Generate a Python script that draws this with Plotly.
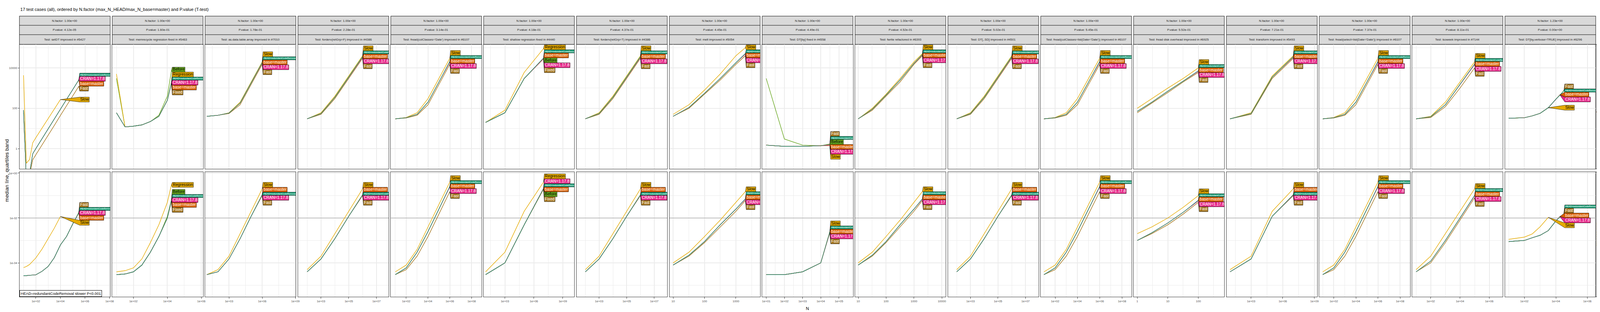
import math
import plotly.graph_objects as go

# the page is photographed about 4096 px wide, so the 6800 px layout is scaled to it
W, H = 4096, 800
SX = W / 6800.0
FONT = "Liberation Sans, Arial, sans-serif"

TITLE = ("17 test cases (all), ordered by N.factor (max_N_HEAD/max_N_base=master) "
         "and P.value (T-test)")

N_FACTOR = ["1.00e+00"] * 16 + ["1.23e+00"]
P_VALUE = ["4.12e-05", "1.60e-01", "1.78e-01", "2.28e-01", "3.14e-01", "4.18e-01",
           "4.37e-01", "4.45e-01", "4.49e-01", "4.52e-01", "5.02e-01", "5.45e-01",
           "5.52e-01", "7.21e-01", "7.37e-01", "8.11e-01", "0.00e+00"]
TESTS = ["setDT improved in #5427",
         "memrecycle regression fixed in #5463",
         "as.data.table.array improved in #7010",
         "forderv(retGrp=F) improved in #4386",
         "fread(colClasses='Date') improved in #6107",
         "shallow regression fixed in #4440",
         "forderv(retGrp=T) improved in #4386",
         "melt improved in #5054",
         "DT[by] fixed in #4558",
         "fwrite refactored in #6393",
         "DT[,.SD] improved in #4501",
         "fread(colClasses=list(Date='Date')) improved in #6107",
         "fread disk overhead improved in #6925",
         "transform improved in #5493",
         "fread(select=list(Date='Date')) improved in #6107",
         "isoweek improved in #7144",
         "DT[by,verbose=TRUE] improved in #6296"]

# x axis (log10 N) per facet column
X_RANGES = [(0.666, 8.05), (0.755, 6.10), (0.84, 9.04), (1.34, 7.88), (0.59, 8.91),
            (0.80, 10.2), (1.36, 7.94), (0.88, 3.77), (0.78, 5.77), (0.887, 4.14),
            (1.36, 7.95), (0.71, 8.85), (-0.12, 2.85), (0.66, 9.26), (0.69, 8.9),
            (0.73, 6.93), (0.77, 6.53)]
X_TICK_EXP = [[2, 4, 6, 8], [2, 4, 6], [3, 6, 9], [3, 5, 7], [2, 4, 6, 8], [3, 6, 9],
              [3, 5, 7], [1, 2, 3], [1, 2, 3, 4, 5], [1, 2, 3, 4], [3, 5, 7],
              [2, 4, 6, 8], [0, 1, 2], [3, 6, 9], [2, 4, 6, 8], [2, 4, 6], [2, 4, 6]]
X_TICK_TEXT = [["1e+02", "1e+04", "1e+06", "1e+08"], ["1e+02", "1e+04", "1e+06"],
               ["1e+03", "1e+06", "1e+09"], ["1e+03", "1e+05", "1e+07"],
               ["1e+02", "1e+04", "1e+06", "1e+08"], ["1e+03", "1e+06", "1e+09"],
               ["1e+03", "1e+05", "1e+07"], ["10", "100", "1000"],
               ["1e+01", "1e+02", "1e+03", "1e+04", "1e+05"], ["10", "100", "1000", "10000"],
               ["1e+03", "1e+05", "1e+07"], ["1e+02", "1e+04", "1e+06", "1e+08"],
               ["1", "10", "100"], ["1e+03", "1e+06", "1e+09"],
               ["1e+02", "1e+04", "1e+06", "1e+08"], ["1e+02", "1e+04", "1e+06"],
               ["1e+02", "1e+04", "1e+06"]]

KB_TICKS = [1, 100, 10000]
KB_TICK_TEXT = ["1", "100", "10000"]
KB_RANGE = (-1.0, 5.16)
SEC_TICKS = [1e-4, 1e-2, 1]
SEC_TICK_TEXT = ["1e-04", "1e-02", "1e+00"]
SEC_RANGE = (-5.51, 0.05)
SECONDS_LIMIT = 0.01

HEAD = "HEAD=redundantCodeRemoval"
BASE = "base=master"
CRAN = "CRAN=1.17.8"

# ---------------- data (median kilobytes / seconds vs N) ----------------
# 1 setDT
p01_N = [10, 17, 31, 56, 100, 316, 1000, 3162, 10000, 31623, 100000, 316228]
p01_kb_slow = [4300, 0.19, 0.29, 1.95, 3.5, 10.2, 31, 91, 270]
p01_kb_fast = [60, 0.03, 0.05, 0.28, 0.5, 1.5, 4.6, 14, 44, 134, 410, 1230]
p01_kb_base = [81, 0.03, 0.06, 0.56, 1.0, 3.1, 9.5, 29, 89, 275, 832, 2500]
p01_kb_cran = [81, 0.03, 0.06, 0.56, 1.0, 3.1, 9.5, 29, 89, 275, 832, 2550]
p01_kb_head = [81, 0.03, 0.06, 0.56, 1.0, 3.1, 9.5, 29, 89, 275, 832, 2600]
p01_sec_slow = [6.2e-5, 6.9e-5, 8.5e-5, 1.17e-4, 1.66e-4, 4.1e-4, 1.2e-3, 3.5e-3, 0.0117]
p01_sec_fast = [2.7e-5, 2.7e-5, 2.8e-5, 2.9e-5, 2.95e-5, 4.2e-5, 6.9e-5, 1.7e-4, 6.3e-4, 1.5e-3, 5.4e-3, 0.0182]
p01_sec_base = [2.7e-5, 2.7e-5, 2.8e-5, 2.9e-5, 2.95e-5, 4.2e-5, 6.9e-5, 1.7e-4, 6.3e-4, 1.5e-3, 5.4e-3, 0.0166]
p01_sec_cran = [2.7e-5, 2.7e-5, 2.8e-5, 2.9e-5, 2.95e-5, 4.2e-5, 6.9e-5, 1.7e-4, 6.3e-4, 1.5e-3, 5.4e-3, 0.0168]
p01_sec_head = [2.7e-5, 2.7e-5, 2.8e-5, 2.9e-5, 2.95e-5, 4.2e-5, 6.9e-5, 1.7e-4, 6.3e-4, 1.5e-3, 5.4e-3, 0.0174]

# 2 memrecycle
p02_N = [10, 32, 100, 316, 1000, 3162, 10000, 17378]
p02_kb_before = [3000, 12, 13, 15, 22, 45, 400, 7200]
p02_kb_regr = [5000, 12, 13, 15, 22, 40, 250, 1900]
p02_kb_fixed = [60, 12, 13, 15, 22, 40, 250, 1700]
p02_kb_base = [60, 12, 13, 15, 22, 40, 250, 1750]
p02_kb_cran = [60, 12, 13, 15, 22, 40, 250, 1800]
p02_kb_head = [60, 12, 13, 15, 22, 40, 250, 1850]
p02_sec_before = [3e-5, 3.2e-5, 4e-5, 8e-5, 3e-4, 1.5e-3, 0.012, 0.065]
p02_sec_regr = [4e-5, 4.5e-5, 6e-5, 1.5e-4, 8e-4, 5e-3, 0.05, 0.3]
p02_sec_fixed = [3e-5, 3.2e-5, 4e-5, 8e-5, 3e-4, 1.5e-3, 0.01, 0.055]
p02_sec_base = [3e-5, 3.2e-5, 4e-5, 8e-5, 3e-4, 1.5e-3, 0.01, 0.058]
p02_sec_cran = [3e-5, 3.2e-5, 4e-5, 8e-5, 3e-4, 1.5e-3, 0.01, 0.06]
p02_sec_head = [3e-5, 3.2e-5, 4e-5, 8e-5, 3e-4, 1.5e-3, 0.01, 0.062]

# 3..16 rough shapes
p03_N = [10, 100, 1000, 10000, 100000, 1000000]
p03_kb_slow = [40, 45, 60, 200, 2000, 20000]
p03_kb_fast = [40, 45, 55, 150, 1500, 15000]
p03_kb_base = [40, 45, 58, 180, 1800, 18000]
p03_kb_cran = [40, 45, 58, 180, 1800, 17500]
p03_kb_head = [40, 45, 58, 180, 1800, 18500]
p03_sec_slow = [3e-5, 5e-5, 2e-4, 2e-3, 0.02, 0.2]
p03_sec_fast = [3e-5, 4e-5, 1.5e-4, 1.2e-3, 0.012, 0.1]
p03_sec_base = [3e-5, 4e-5, 1.5e-4, 1.2e-3, 0.012, 0.11]
p03_sec_cran = [3e-5, 4e-5, 1.5e-4, 1.2e-3, 0.012, 0.105]
p03_sec_head = [3e-5, 4e-5, 1.5e-4, 1.2e-3, 0.012, 0.108]

p04_N = [100, 1000, 10000, 100000, 1000000]
p04_kb_slow = [30, 60, 400, 4000, 40000]
p04_kb_fast = [30, 50, 300, 3000, 30000]
p04_kb_base = [30, 55, 350, 3500, 35000]
p04_kb_cran = [30, 55, 350, 3500, 34000]
p04_kb_head = [30, 55, 350, 3500, 36000]
p04_sec_slow = [5e-5, 2e-4, 2e-3, 0.02, 0.2]
p04_sec_fast = [4e-5, 1.5e-4, 1.2e-3, 0.012, 0.1]
p04_sec_base = [4e-5, 1.5e-4, 1.2e-3, 0.012, 0.11]
p04_sec_cran = [4e-5, 1.5e-4, 1.2e-3, 0.012, 0.105]
p04_sec_head = [4e-5, 1.5e-4, 1.2e-3, 0.012, 0.108]

p05_N = [10, 100, 1000, 10000, 100000, 1000000]
p05_kb_slow = [30, 35, 60, 300, 3000, 30000]
p05_kb_fast = [30, 33, 45, 150, 1500, 15000]
p05_kb_base = [30, 34, 50, 200, 2000, 20000]
p05_kb_cran = [30, 34, 50, 200, 2000, 19000]
p05_kb_head = [30, 34, 50, 200, 2000, 21000]
p05_sec_slow = [4e-5, 8e-5, 4e-4, 4e-3, 0.04, 0.4]
p05_sec_fast = [3e-5, 5e-5, 2e-4, 1.5e-3, 0.015, 0.15]
p05_sec_base = [3e-5, 6e-5, 3e-4, 2.5e-3, 0.025, 0.25]
p05_sec_cran = [3e-5, 6e-5, 3e-4, 2.5e-3, 0.025, 0.24]
p05_sec_head = [3e-5, 6e-5, 3e-4, 2.5e-3, 0.025, 0.26]

p06_N = [10, 1000, 100000, 10000000]
p06_kb_before = [20, 60, 3000, 30000]
p06_kb_regr = [20, 80, 6000, 90000]
p06_kb_fixed = [20, 60, 3000, 28000]
p06_kb_base = [20, 60, 3000, 30000]
p06_kb_cran = [20, 60, 3000, 29000]
p06_kb_head = [20, 60, 3000, 31000]
p06_sec_before = [3e-5, 1e-4, 5e-3, 0.2]
p06_sec_regr = [4e-5, 3e-4, 0.02, 0.4]
p06_sec_fixed = [3e-5, 1e-4, 5e-3, 0.19]
p06_sec_base = [3e-5, 1e-4, 5e-3, 0.2]
p06_sec_cran = [3e-5, 1e-4, 5e-3, 0.21]
p06_sec_head = [3e-5, 1e-4, 5e-3, 0.205]

p07_N = [100, 1000, 10000, 100000, 1000000]
p07_kb_slow = [30, 60, 400, 4000, 40000]
p07_kb_fast = [30, 50, 300, 3000, 30000]
p07_kb_base = [30, 55, 350, 3500, 35000]
p07_kb_cran = [30, 55, 350, 3500, 34000]
p07_kb_head = [30, 55, 350, 3500, 36000]
p07_sec_slow = [5e-5, 2e-4, 2e-3, 0.02, 0.2]
p07_sec_fast = [4e-5, 1.5e-4, 1.2e-3, 0.012, 0.1]
p07_sec_base = [4e-5, 1.5e-4, 1.2e-3, 0.012, 0.11]
p07_sec_cran = [4e-5, 1.5e-4, 1.2e-3, 0.012, 0.105]
p07_sec_head = [4e-5, 1.5e-4, 1.2e-3, 0.012, 0.108]

p08_N = [10, 32, 100, 316, 1000, 2000]
p08_kb_slow = [50, 150, 800, 5000, 40000, 100000]
p08_kb_fast = [40, 100, 500, 2500, 15000, 40000]
p08_kb_base = [40, 110, 550, 3000, 18000, 50000]
p08_kb_cran = [40, 110, 550, 3000, 18000, 48000]
p08_kb_head = [40, 110, 550, 3000, 18000, 52000]
p08_sec_slow = [1e-4, 3e-4, 1.5e-3, 8e-3, 0.05, 0.15]
p08_sec_fast = [8e-5, 2e-4, 8e-4, 4e-3, 0.02, 0.06]
p08_sec_base = [8e-5, 2.2e-4, 9e-4, 5e-3, 0.025, 0.07]
p08_sec_cran = [8e-5, 2.2e-4, 9e-4, 5e-3, 0.025, 0.068]
p08_sec_head = [8e-5, 2.2e-4, 9e-4, 5e-3, 0.025, 0.072]

p09_N = [10, 100, 1000, 10000, 31623]
p09_kb_before = [3000, 3, 1.5, 1.4, 1.6]
p09_kb_slow = [1.5, 1.3, 1.3, 1.4, 1.4]
p09_kb_fast = [1.5, 1.3, 1.3, 1.4, 1.7]
p09_kb_base = [1.5, 1.3, 1.3, 1.4, 1.5]
p09_kb_cran = [1.5, 1.3, 1.3, 1.4, 1.45]
p09_kb_head = [1.5, 1.3, 1.3, 1.4, 1.6]
p09_sec_slow = [3e-5, 3e-5, 4e-5, 1e-4, 2.5e-3]
p09_sec_fast = [3e-5, 3e-5, 4e-5, 1e-4, 2.2e-3]
p09_sec_base = [3e-5, 3e-5, 4e-5, 1e-4, 2.4e-3]
p09_sec_cran = [3e-5, 3e-5, 4e-5, 1e-4, 2.3e-3]
p09_sec_head = [3e-5, 3e-5, 4e-5, 1e-4, 2.45e-3]

p10_N = [10, 32, 100, 316, 1000, 2000]
p10_kb_slow = [30, 100, 500, 3000, 20000, 50000]
p10_kb_fast = [30, 80, 400, 2000, 15000, 40000]
p10_kb_base = [30, 90, 450, 2500, 17000, 45000]
p10_kb_cran = [30, 90, 450, 2500, 17000, 44000]
p10_kb_head = [30, 90, 450, 2500, 17000, 46000]
p10_sec_slow = [1e-4, 3e-4, 1.5e-3, 8e-3, 0.05, 0.15]
p10_sec_fast = [8e-5, 2e-4, 8e-4, 4e-3, 0.02, 0.06]
p10_sec_base = [8e-5, 2.2e-4, 9e-4, 5e-3, 0.025, 0.07]
p10_sec_cran = [8e-5, 2.2e-4, 9e-4, 5e-3, 0.025, 0.068]
p10_sec_head = [8e-5, 2.2e-4, 9e-4, 5e-3, 0.025, 0.072]

p11_N = [100, 1000, 10000, 100000, 1000000]
p11_kb_slow = [30, 60, 400, 4000, 40000]
p11_kb_fast = [30, 50, 300, 3000, 30000]
p11_kb_base = [30, 55, 350, 3500, 35000]
p11_kb_cran = [30, 55, 350, 3500, 34000]
p11_kb_head = [30, 55, 350, 3500, 36000]
p11_sec_slow = [5e-5, 2e-4, 2e-3, 0.02, 0.2]
p11_sec_fast = [4e-5, 1.5e-4, 1.2e-3, 0.012, 0.1]
p11_sec_base = [4e-5, 1.5e-4, 1.2e-3, 0.012, 0.11]
p11_sec_cran = [4e-5, 1.5e-4, 1.2e-3, 0.012, 0.105]
p11_sec_head = [4e-5, 1.5e-4, 1.2e-3, 0.012, 0.108]

p12_N = [10, 100, 1000, 10000, 100000, 1000000]
p12_kb_slow = [30, 35, 60, 300, 3000, 30000]
p12_kb_fast = [30, 33, 45, 150, 1500, 15000]
p12_kb_base = [30, 34, 50, 200, 2000, 20000]
p12_kb_cran = [30, 34, 50, 200, 2000, 19000]
p12_kb_head = [30, 34, 50, 200, 2000, 21000]
p12_sec_slow = [4e-5, 8e-5, 4e-4, 4e-3, 0.04, 0.4]
p12_sec_fast = [3e-5, 5e-5, 2e-4, 1.5e-3, 0.015, 0.15]
p12_sec_base = [3e-5, 6e-5, 3e-4, 2.5e-3, 0.025, 0.25]
p12_sec_cran = [3e-5, 6e-5, 3e-4, 2.5e-3, 0.025, 0.24]
p12_sec_head = [3e-5, 6e-5, 3e-4, 2.5e-3, 0.025, 0.26]

p13_N = [1, 3, 10, 32, 100]
p13_kb_slow = [100, 300, 1000, 3000, 10000]
p13_kb_fast = [60, 180, 600, 2000, 6000]
p13_kb_base = [70, 200, 700, 2200, 7000]
p13_kb_cran = [70, 200, 700, 2200, 6800]
p13_kb_head = [70, 200, 700, 2200, 7200]
p13_sec_slow = [2e-3, 4e-3, 1e-2, 3e-2, 0.1]
p13_sec_fast = [1e-3, 2e-3, 5e-3, 1.5e-2, 0.05]
p13_sec_base = [1e-3, 2.2e-3, 6e-3, 1.8e-2, 0.06]
p13_sec_cran = [1e-3, 2.2e-3, 6e-3, 1.8e-2, 0.058]
p13_sec_head = [1e-3, 2.2e-3, 6e-3, 1.8e-2, 0.062]

p14_N = [10, 1000, 100000, 10000000]
p14_kb_slow = [30, 60, 4000, 40000]
p14_kb_fast = [30, 50, 3000, 30000]
p14_kb_base = [30, 55, 3500, 35000]
p14_kb_cran = [30, 55, 3500, 34000]
p14_kb_head = [30, 55, 3500, 36000]
p14_sec_slow = [5e-5, 2e-4, 0.02, 0.2]
p14_sec_fast = [4e-5, 1.5e-4, 0.012, 0.1]
p14_sec_base = [4e-5, 1.5e-4, 0.012, 0.11]
p14_sec_cran = [4e-5, 1.5e-4, 0.012, 0.105]
p14_sec_head = [4e-5, 1.5e-4, 0.012, 0.108]

p15_N = [10, 100, 1000, 10000, 100000, 1000000]
p15_kb_slow = [30, 35, 60, 300, 3000, 30000]
p15_kb_fast = [30, 33, 45, 150, 1500, 15000]
p15_kb_base = [30, 34, 50, 200, 2000, 20000]
p15_kb_cran = [30, 34, 50, 200, 2000, 19000]
p15_kb_head = [30, 34, 50, 200, 2000, 21000]
p15_sec_slow = [4e-5, 8e-5, 4e-4, 4e-3, 0.04, 0.4]
p15_sec_fast = [3e-5, 5e-5, 2e-4, 1.5e-3, 0.015, 0.15]
p15_sec_base = [3e-5, 6e-5, 3e-4, 2.5e-3, 0.025, 0.25]
p15_sec_cran = [3e-5, 6e-5, 3e-4, 2.5e-3, 0.025, 0.24]
p15_sec_head = [3e-5, 6e-5, 3e-4, 2.5e-3, 0.025, 0.26]

p16_N = [10, 100, 1000, 10000, 100000]
p16_kb_slow = [30, 40, 200, 2000, 20000]
p16_kb_fast = [30, 35, 120, 1000, 10000]
p16_kb_base = [30, 38, 150, 1500, 15000]
p16_kb_cran = [30, 38, 150, 1500, 14500]
p16_kb_head = [30, 38, 150, 1500, 15500]
p16_sec_slow = [5e-5, 2e-4, 2e-3, 0.02, 0.2]
p16_sec_fast = [4e-5, 1e-4, 8e-4, 8e-3, 0.08]
p16_sec_base = [4e-5, 1.2e-4, 1e-3, 0.01, 0.1]
p16_sec_cran = [4e-5, 1.2e-4, 1e-3, 0.01, 0.098]
p16_sec_head = [4e-5, 1.2e-4, 1e-3, 0.01, 0.102]

# 17 DT[by,verbose=TRUE]
p17_N = [10, 100, 316, 1000, 3311, 10000, 18197, 32359]
p17_kb_slow = [32, 34, 42, 56, 107]
p17_kb_fast = [32, 34, 42, 56, 107, 282, 447, 760]
p17_kb_base = [32, 34, 42, 56, 107, 282, 468]
p17_kb_cran = [32, 34, 42, 56, 107, 282, 455]
p17_kb_head = [32, 34, 42, 56, 107, 282, 447, 741]
p17_sec_slow = [1.12e-3, 1.41e-3, 1.95e-3, 4.07e-3, 0.0107]
p17_sec_fast = [8.9e-4, 1.0e-3, 1.32e-3, 1.7e-3, 2.75e-3, 7.4e-3, 0.0112, 0.0148]
p17_sec_base = [8.9e-4, 1.0e-3, 1.32e-3, 1.7e-3, 2.75e-3, 7.4e-3, 0.0117]
p17_sec_cran = [8.9e-4, 1.0e-3, 1.32e-3, 1.7e-3, 2.75e-3, 7.4e-3, 0.0115]
p17_sec_head = [8.9e-4, 1.0e-3, 1.32e-3, 1.7e-3, 2.75e-3, 7.4e-3, 0.0112, 0.0155]


def std(prefix):
    g = globals()
    return {k: g[prefix + "_" + s] for k, s in
            [("Slow", "slow"), ("Fast", "fast"), (BASE, "base"), (CRAN, "cran"), (HEAD, "head")]}


def regr(prefix):
    g = globals()
    return {k: g[prefix + "_" + s] for k, s in
            [("Before", "before"), ("Regression", "regr"), ("Fixed", "fixed"),
             (BASE, "base"), (CRAN, "cran"), (HEAD, "head")]}


PANELS = []
for i in range(1, 18):
    p = "p%02d" % i
    if i in (2, 6):
        kb, sec = regr(p + "_kb"), regr(p + "_sec")
    else:
        kb, sec = std(p + "_kb"), std(p + "_sec")
        if i == 9:
            kb = dict(Before=p09_kb_before, **kb)
    PANELS.append(dict(N=globals()[p + "_N"], kb=kb, sec=sec))

COLORS = {HEAD: "#1B9E77", BASE: "#D95F02", CRAN: "#E7298A", "Before": "#66A61E",
          "Slow": "#E6AB02", "Regression": "#E6AB02", "Fast": "#A6761D", "Fixed": "#A6761D"}
DARK_TEXT = {"Slow", "Regression", "Before"}
TIE_ORDER = ["Fast", "Fixed", HEAD, CRAN, BASE, "Before", "Slow", "Regression"]

# ---------------- geometry (pixels, horizontal ones scaled from 6800) ----------------
PANEL_LEFT = 69.3 * SX
PANEL_W = 385.6 * SX
PANEL_STEP = 394.6 * SX
ROWS = [(106.0, 425.0), (433.0, 753.0)]
STRIPS = [(33.3, 57.0), (57.0, 81.0), (81.0, 106.0)]
RSTRIP = (6768.4 * SX, 6792.0 * SX)
Y_RANGES = [KB_RANGE, SEC_RANGE]

LAB_FS = 10.2
HEAD_FS = 5.9
STRIP_FS = 7.8
TICK_FS = 7.6

CHAR_W = {"A": .667, "B": .667, "C": .722, "D": .722, "E": .667, "F": .611, "H": .722,
          "N": .722, "R": .722, "S": .667, "a": .556, "b": .556, "c": .5, "d": .556,
          "e": .556, "f": .278, "g": .556, "h": .556, "i": .222, "l": .222, "m": .833,
          "n": .556, "o": .556, "r": .333, "s": .5, "t": .278, "u": .556, "v": .5,
          "w": .722, "x": .5, "=": .584, ".": .278, " ": .278}


def text_w(s, size):
    return sum(CHAR_W.get(ch, .556) for ch in s) * size


def lab_font(name):
    return HEAD_FS if name == HEAD else LAB_FS


def lab_h(name):
    return 8.2 if name == HEAD else 12.6


def col_left(c):
    return PANEL_LEFT + c * PANEL_STEP


def to_px(c, r, lx, ly):
    x0, x1 = X_RANGES[c]
    y0, y1 = Y_RANGES[r]
    top, bot = ROWS[r]
    return (col_left(c) + (lx - x0) / (x1 - x0) * PANEL_W,
            bot - (ly - y0) / (y1 - y0) * (bot - top))


def from_px(c, r, px, py):
    x0, x1 = X_RANGES[c]
    y0, y1 = Y_RANGES[r]
    top, bot = ROWS[r]
    lx = x0 + (px - col_left(c)) / PANEL_W * (x1 - x0)
    ly = y0 + (bot - py) / (bot - top) * (y1 - y0)
    return 10 ** lx, 10 ** ly


def spread(items, top, bot):
    # stack labels without overlap, each group centred on its points (least squares)
    items = sorted(items, key=lambda t: (round(t[1], 3), TIE_ORDER.index(t[0])))
    groups = []
    for name, cy in items:
        groups.append([[(name, cy)], cy - lab_h(name) / 2])
        while len(groups) > 1:
            a, b = groups[-2], groups[-1]
            if a[1] + sum(lab_h(n) for n, _ in a[0]) <= b[1] + 1e-6:
                break
            mem = a[0] + b[0]
            off, cands = 0.0, []
            for n, y in mem:
                cands.append(y - off - lab_h(n) / 2)
                off += lab_h(n)
            groups[-2:] = [[mem, sum(cands) / len(cands)]]
    out = []
    for mem, t in groups:
        total = sum(lab_h(n) for n, _ in mem)
        t = max(top + 1, min(t, bot - 1 - total))
        for n, _ in mem:
            out.append((n, t, t + lab_h(n)))
            t += lab_h(n)
    return out


fig = go.Figure()
layout_axes = {}

for c, panel in enumerate(PANELS):
    for r, key in enumerate(["kb", "sec"]):
        k = r * 17 + c + 1
        xa, ya = "x%d" % k, "y%d" % k
        series = panel[key]
        if r == 1:
            xr = X_RANGES[c]
            fig.add_trace(go.Scatter(x=[10 ** xr[0], 10 ** xr[1]], y=[SECONDS_LIMIT] * 2,
                                     mode="lines", line=dict(color="#BEBEBE", width=1.8),
                                     hoverinfo="skip", xaxis=xa, yaxis=ya))
        ends = {}
        for name in ["Before", "Regression", "Slow", "Fixed", "Fast", BASE, CRAN, HEAD]:
            if name not in series:
                continue
            vals = series[name]
            ns = panel["N"][:len(vals)]
            fig.add_trace(go.Scatter(x=ns, y=vals, mode="lines",
                                     line=dict(color=COLORS[name], width=1.4),
                                     xaxis=xa, yaxis=ya))
            ends[name] = to_px(c, r, math.log10(ns[-1]), math.log10(vals[-1]))
        left = max(p[0] for p in ends.values()) + 2.2
        top, bot = ROWS[r]
        for name, t, b in spread([(n, e[1]) for n, e in ends.items()], top, bot):
            fs = lab_font(name)
            right = left + text_w(name, fs) + 2.5
            ex, ey = ends[name]
            pts = [(ex, ey), (left, t), (right, t), (right, b), (left, b), (ex, ey)]
            dat = [from_px(c, r, px, py) for px, py in pts]
            fig.add_trace(go.Scatter(x=[d[0] for d in dat], y=[d[1] for d in dat],
                                     mode="lines", fill="toself", fillcolor=COLORS[name],
                                     line=dict(color="black", width=0.7),
                                     hoverinfo="skip", xaxis=xa, yaxis=ya))
            tx, ty = from_px(c, r, (left + right) / 2, (t + b) / 2 + 0.4)
            fig.add_trace(go.Scatter(x=[tx], y=[ty], mode="text", text=[name],
                                     textposition="middle center",
                                     textfont=dict(family=FONT, size=fs,
                                                   color="black" if name in DARK_TEXT else "white"),
                                     hoverinfo="skip", xaxis=xa, yaxis=ya))

        # axes
        x0, x1 = X_RANGES[c]
        exps = X_TICK_EXP[c]
        step = exps[1] - exps[0]
        xminor = [10 ** (e + step / 2) for e in [exps[0] - step] + exps
                  if x0 <= e + step / 2 <= x1]
        top, bot = ROWS[r]
        left_px = col_left(c)
        layout_axes["xaxis%d" % k] = dict(
            type="log", range=[x0, x1], domain=[left_px / W, (left_px + PANEL_W) / W],
            anchor=ya, tickvals=[10 ** e for e in exps], ticktext=X_TICK_TEXT[c],
            showticklabels=(r == 1), ticks="outside" if r == 1 else "",
            ticklen=4, tickwidth=1.1, tickcolor="#333333",
            tickfont=dict(family=FONT, size=TICK_FS, color="#4D4D4D"),
            showgrid=True, gridcolor="#EBEBEB", gridwidth=1.6, zeroline=False,
            minor=dict(tickvals=xminor, showgrid=True, gridcolor="#EBEBEB", gridwidth=0.8),
            showline=True, mirror=True, linecolor="#333333", linewidth=1.2, automargin=False)
        y0, y1 = Y_RANGES[r]
        yt = KB_TICKS if r == 0 else SEC_TICKS
        ytt = KB_TICK_TEXT if r == 0 else SEC_TICK_TEXT
        ymaj = [math.log10(v) for v in yt]
        ystep = ymaj[1] - ymaj[0]
        yminor = [10 ** (e + ystep / 2) for e in [ymaj[0] - ystep] + ymaj
                  if y0 <= e + ystep / 2 <= y1]
        layout_axes["yaxis%d" % k] = dict(
            type="log", range=[y0, y1], domain=[1 - bot / H, 1 - top / H], anchor=xa,
            tickvals=yt, ticktext=ytt, showticklabels=(c == 0),
            ticks="outside" if c == 0 else "", ticklen=3, tickwidth=1.1, tickcolor="#333333",
            tickfont=dict(family=FONT, size=TICK_FS, color="#4D4D4D"),
            showgrid=True, gridcolor="#EBEBEB", gridwidth=1.6, zeroline=False,
            minor=dict(tickvals=yminor, showgrid=True, gridcolor="#EBEBEB", gridwidth=0.8),
            showline=True, mirror=True, linecolor="#333333", linewidth=1.2, automargin=False)

# strips
shapes, annotations = [], []
for c in range(17):
    lp = col_left(c)
    texts = ["N.factor: " + N_FACTOR[c], "P.value: " + P_VALUE[c], "Test: " + TESTS[c]]
    for (t, b), txt in zip(STRIPS, texts):
        shapes.append(dict(type="rect", xref="paper", yref="paper", x0=lp / W,
                           x1=(lp + PANEL_W) / W, y0=1 - b / H, y1=1 - t / H,
                           fillcolor="#D9D9D9", line=dict(color="#333333", width=1.2),
                           layer="below"))
        annotations.append(dict(text=txt, xref="paper", yref="paper",
                                x=(lp + PANEL_W / 2) / W, y=1 - (t + b) / 2 / H,
                                showarrow=False, xanchor="center", yanchor="middle",
                                font=dict(family=FONT, size=STRIP_FS, color="#1A1A1A")))
for (t, b), txt in zip(ROWS, ["unit: kilobytes", "unit: seconds"]):
    shapes.append(dict(type="rect", xref="paper", yref="paper", x0=RSTRIP[0] / W,
                       x1=RSTRIP[1] / W, y0=1 - b / H, y1=1 - t / H, fillcolor="#D9D9D9",
                       line=dict(color="#333333", width=1.2), layer="below"))
    annotations.append(dict(text=txt, xref="paper", yref="paper", textangle=90,
                            x=(RSTRIP[0] + RSTRIP[1]) / 2 / W, y=1 - (t + b) / 2 / H,
                            showarrow=False, xanchor="center", yanchor="middle",
                            font=dict(family=FONT, size=10.5, color="#1A1A1A")))

annotations.append(dict(text=TITLE, xref="paper", yref="paper", x=PANEL_LEFT / W,
                        y=1 - 16 / H, xanchor="left", yanchor="middle", showarrow=False,
                        font=dict(family=FONT, size=11.2, color="black")))
annotations.append(dict(text="median line, quartiles band", xref="paper", yref="paper",
                        x=9 / W, y=1 - 430 / H, textangle=-90, showarrow=False,
                        xanchor="center", yanchor="middle",
                        font=dict(family=FONT, size=13.5, color="black")))
annotations.append(dict(text="N", xref="paper", yref="paper", x=3418 * SX / W, y=1 - 783 / H,
                        showarrow=False, xanchor="center", yanchor="middle",
                        font=dict(family=FONT, size=11, color="black")))
annotations.append(dict(text="HEAD=redundantCodeRemoval slower P<0.001", xref="paper",
                        yref="paper", x=PANEL_LEFT / W, y=1 - 752.5 / H, xanchor="left",
                        yanchor="bottom", showarrow=False, bgcolor="white",
                        bordercolor="black", borderwidth=1, borderpad=2,
                        font=dict(family=FONT, size=9.6, color="black")))

fig.update_layout(width=W, height=H, margin=dict(l=0, r=0, t=0, b=0, pad=0),
                  paper_bgcolor="white", plot_bgcolor="white", showlegend=False,
                  shapes=shapes, annotations=annotations, **layout_axes)
fig.write_html("out.html")
